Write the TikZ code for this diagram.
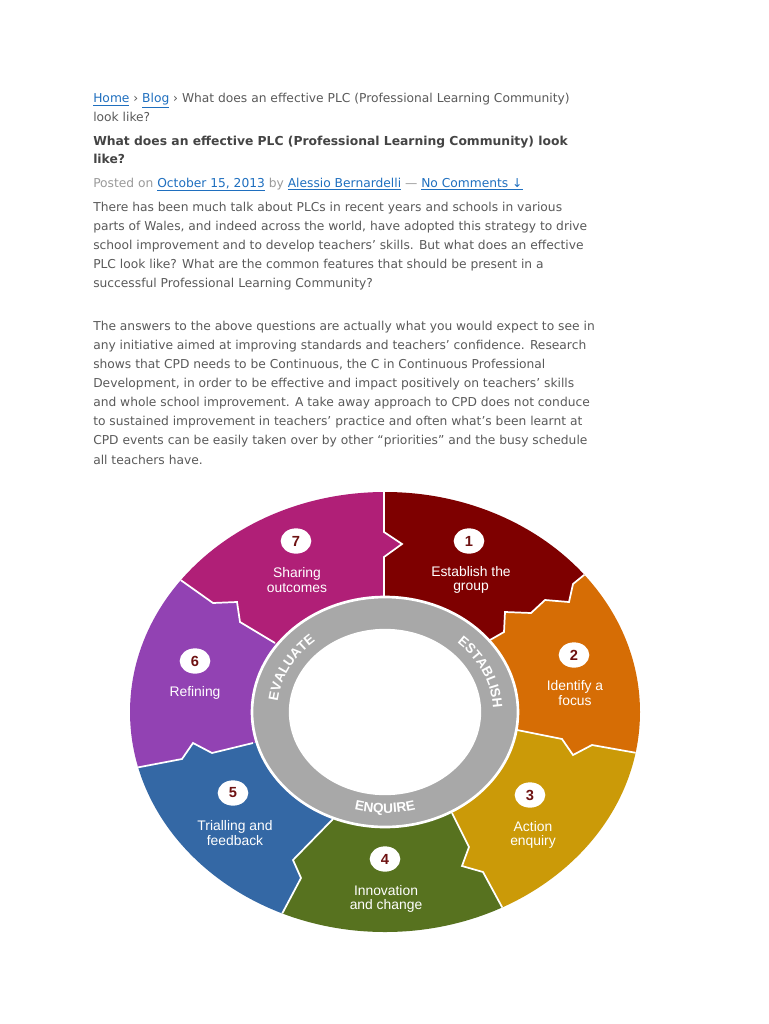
\documentclass[tikz,border=0pt]{standalone}
\usepackage{fontspec}
\setmainfont{DejaVu Sans}
\newfontfamily\arialf{Liberation Sans}
\usetikzlibrary{shapes.geometric,decorations.text}
\definecolor{segA}{HTML}{7E0000}
\definecolor{segB}{HTML}{D66D05}
\definecolor{segC}{HTML}{CB9A08}
\definecolor{segD}{HTML}{57721F}
\definecolor{segE}{HTML}{3468A5}
\definecolor{segF}{HTML}{9242B3}
\definecolor{segG}{HTML}{B01F77}
\definecolor{ringgrey}{HTML}{A8A8A8}
\definecolor{numred}{HTML}{6E1212}
\definecolor{bodygrey}{HTML}{5A5A5A}
\definecolor{titlegrey}{HTML}{444444}
\definecolor{lightgrey}{HTML}{9A9A9A}
\definecolor{linkblue}{HTML}{1F6FBF}
\newcommand\lnk[1]{\textcolor{linkblue}{\underline{#1}}}
\tikzset{
  bodyline/.style={anchor=base west, inner sep=0, text=bodygrey, font=\fontsize{9.2}{11}\selectfont},
  titleline/.style={anchor=base west, inner sep=0, text=titlegrey, font=\bfseries\fontsize{9.25}{11}\selectfont},
  seglabel/.style={inner sep=0, text=white, align=center, font=\arialf\fontsize{10.4}{10.6}\selectfont},
  numdisc/.style={ellipse, fill=white, minimum width=23pt, minimum height=19pt, inner sep=0, text=numred, font=\arialf\bfseries\fontsize{11}{12}\selectfont},
  sepline/.style={white, line width=1.3pt, line join=miter},
  ringword/.style={decorate, decoration={text along path, text align=center, text color=white}}
}
\begin{document}
\begin{tikzpicture}[x=0.75pt,y=0.75pt]
\useasboundingbox (0,0) rectangle (768,-1024);
\fill[white] (0,0) rectangle (768,-1024);

% ---------- page text ----------
\node[bodyline] (h1) at (93,-103) {\lnk{Home} › \lnk{Blog} › What does an effective PLC (Professional Learning Community)};
\node[bodyline] (h2) at (93,-122) {look like?};
\node[titleline] (t1) at (93,-145) {What does an effective PLC (Professional Learning Community) look};
\node[titleline] (t2) at (93,-163) {like?};
\node[bodyline] (m1) at (93,-187) {\textcolor{lightgrey}{Posted on} \lnk{October 15, 2013} \textcolor{lightgrey}{by} \lnk{Alessio Bernardelli} \textcolor{lightgrey}{—} \lnk{No Comments ↓}};

\node[bodyline] (a1) at (93,-211) {There has been much talk about PLCs in recent years and schools in various};
\node[bodyline] (a2) at (93,-230) {parts of Wales, and indeed across the world, have adopted this strategy to drive};
\node[bodyline] (a3) at (93,-249) {school improvement and to develop teachers’ skills. But what does an effective};
\node[bodyline] (a4) at (93,-268) {PLC look like? What are the common features that should be present in a};
\node[bodyline] (a5) at (93,-287) {successful Professional Learning Community?};

\node[bodyline] (b1) at (93,-330) {The answers to the above questions are actually what you would expect to see in};
\node[bodyline] (b2) at (93,-349.1) {any initiative aimed at improving standards and teachers’ confidence. Research};
\node[bodyline] (b3) at (93,-368.3) {shows that CPD needs to be Continuous, the C in Continuous Professional};
\node[bodyline] (b4) at (93,-387.4) {Development, in order to be effective and impact positively on teachers’ skills};
\node[bodyline] (b5) at (93,-406.6) {and whole school improvement. A take away approach to CPD does not conduce};
\node[bodyline] (b6) at (93,-425.7) {to sustained improvement in teachers’ practice and often what’s been learnt at};
\node[bodyline] (b7) at (93,-444.9) {CPD events can be easily taken over by other “priorities” and the busy schedule};
\node[bodyline] (b8) at (93,-464) {all teachers have.};

% ---------- cycle diagram ----------
\coordinate (C) at (385,-712);
\begin{scope}
\clip (C) ellipse [x radius=255, y radius=220];
\fill[segA] (C) -- (384,-600) -- (384,-557) -- (402,-544) -- (384,-532) -- (384,-440) -- (700,-440) -- (640,-530) -- (584,-575) -- (573,-584) -- (569,-602) -- (545,-600) -- (531,-613) -- (505,-612) -- (504,-632) -- (490,-640) -- cycle;
\fill[segB] (C) -- (490,-640) -- (504,-632) -- (505,-612) -- (531,-613) -- (545,-600) -- (569,-602) -- (573,-584) -- (584,-575) -- (640,-530) -- (760,-500) -- (760,-770) -- (680,-761) -- (637,-753) -- (592,-745) -- (573,-755) -- (562,-739) -- (517,-730) -- cycle;
\fill[segC] (C) -- (517,-730) -- (562,-739) -- (573,-755) -- (592,-745) -- (637,-753) -- (680,-761) -- (760,-770) -- (760,-1000) -- (530,-1000) -- (530,-960) -- (502,-907) -- (483,-872) -- (462,-866) -- (469,-847) -- (452,-813) -- cycle;
\fill[segD] (C) -- (452,-813) -- (469,-847) -- (462,-866) -- (483,-872) -- (502,-907) -- (530,-960) -- (530,-1000) -- (260,-1000) -- (260,-955) -- (283,-912) -- (301,-878) -- (293,-860) -- (333,-819) -- cycle;
\fill[segE] (C) -- (333,-819) -- (293,-860) -- (301,-878) -- (283,-912) -- (260,-955) -- (260,-1000) -- (40,-1000) -- (40,-780) -- (90,-777) -- (140,-767) -- (182,-759) -- (193,-743) -- (212,-753) -- (253,-743) -- cycle;
\fill[segF] (C) -- (253,-743) -- (212,-753) -- (193,-743) -- (182,-759) -- (140,-767) -- (90,-777) -- (40,-780) -- (40,-540) -- (140,-551) -- (182,-581) -- (213,-603) -- (237,-602) -- (240,-622) -- (275,-643) -- cycle;
\fill[segG] (C) -- (275,-643) -- (240,-622) -- (237,-602) -- (213,-603) -- (182,-581) -- (140,-551) -- (140,-440) -- (384,-440) -- (384,-532) -- (402,-544) -- (384,-557) -- (384,-600) -- cycle;
% separators
\draw[sepline] (384,-600) -- (384,-557) -- (402,-544) -- (384,-532) -- (384,-440);
\draw[sepline] (490,-640) -- (504,-632) -- (505,-612) -- (531,-613) -- (545,-600) -- (569,-602) -- (573,-584) -- (584,-575) -- (640,-530);
\draw[sepline] (517,-730) -- (562,-739) -- (573,-755) -- (592,-745) -- (637,-753) -- (680,-761);
\draw[sepline] (452,-813) -- (469,-847) -- (462,-866) -- (483,-872) -- (502,-907) -- (530,-960);
\draw[sepline] (333,-819) -- (293,-860) -- (301,-878) -- (283,-912) -- (260,-955);
\draw[sepline] (253,-743) -- (212,-753) -- (193,-743) -- (182,-759) -- (140,-767) -- (90,-777);
\draw[sepline] (275,-643) -- (240,-622) -- (237,-602) -- (213,-603) -- (182,-581) -- (140,-551);
\end{scope}

% ring
\draw[white, line width=2pt, fill=ringgrey] (C) ellipse [x radius=133, y radius=115];
\draw[white, line width=1pt, fill=white] (C) ellipse [x radius=95.5, y radius=82.5];

% ring words
\path[ringword, decoration={text={|\arialf\bfseries\fontsize{10.2}{11}\selectfont|EVALUATE}}]
  (C) ++(178:108 and 92.5) arc[start angle=178, end angle=126, x radius=108, y radius=92.5];
\path[ringword, decoration={text={|\arialf\bfseries\fontsize{10.2}{11}\selectfont|ESTABLISH}}]
  (C) ++(52:108 and 92.5) arc[start angle=52, end angle=-2, x radius=108, y radius=92.5];
\path[ringword, decoration={text={|\arialf\bfseries\fontsize{10.2}{11}\selectfont|ENQUIRE}}]
  (C) ++(243:118 and 101) arc[start angle=243, end angle=297, x radius=118, y radius=101];

% numbered discs and labels
\node[numdisc] (n1) at (469,-541) {1};
\node[numdisc] (n2) at (574,-655) {2};
\node[numdisc] (n3) at (530,-795) {3};
\node[numdisc] (n4) at (385,-859) {4};
\node[numdisc] (n5) at (233,-793) {5};
\node[numdisc] (n6) at (195,-661) {6};
\node[numdisc] (n7) at (296,-541) {7};

\node[seglabel] (l1) at (471,-580) {Establish the\\group};
\node[seglabel] (l2) at (575,-693) {Identify a\\focus};
\node[seglabel] (l3) at (533,-835) {Action\\enquiry};
\node[seglabel] (l4) at (386,-899) {Innovation\\and change};
\node[seglabel] (l5) at (235,-833) {Trialling and\\feedback};
\node[seglabel] (l6) at (195,-693) {Refining};
\node[seglabel] (l7) at (297,-580) {Sharing\\outcomes};
\end{tikzpicture}
\end{document}
